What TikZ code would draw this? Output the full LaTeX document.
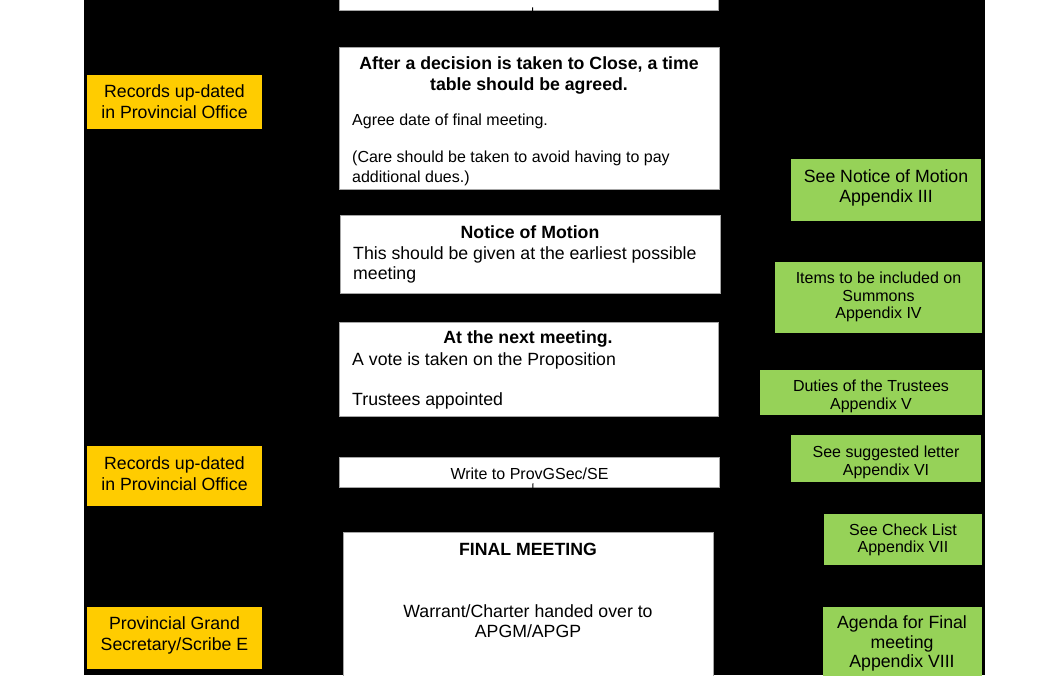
\documentclass[tikz,border=0pt]{standalone}
\usepackage{fontspec}
\setmainfont{Liberation Sans}
\usetikzlibrary{fit,arrows.meta}
\definecolor{boxyellow}{RGB}{255,204,0}
\definecolor{boxgreen}{RGB}{150,210,88}
\tikzset{
  wbox/.style={fill=white,draw=gray!70,line width=0.6pt,inner sep=0pt},
  ybox/.style={fill=boxyellow,draw=none,inner sep=0pt},
  gbox/.style={fill=boxgreen,draw=none,inner sep=0pt},
  txt/.style={inner sep=0pt,text=black},
  hb/.style={txt,font=\fontsize{17.7}{21}\selectfont\bfseries},
  tr/.style={txt,font=\fontsize{17.7}{21}\selectfont},
  ts/.style={txt,font=\fontsize{16}{18}\selectfont},
  conn/.style={draw=black,line width=1pt,-{Stealth[length=6pt]}},
}
\begin{document}
\begin{tikzpicture}[x=1pt,y=-1pt]
\useasboundingbox (0,0) rectangle (1058,675);
\fill[white] (0,0) rectangle (1058,675);
\fill[black] (84,0) rectangle (985,675);

% main column
\node[wbox,fit={(339,-4)(718,10)}] (b1) {};
\node[wbox,fit={(339,47)(719,189)}] (b2) {};
\node[wbox,fit={(340,215)(720,293)}] (b3) {};
\node[wbox,fit={(339,322)(718,416)}] (b4) {};
\node[wbox,fit={(339,457)(719,487)}] (b5) {};
\node[wbox,fit={(343,532)(713,682)}] (b6) {};

\node[hb,anchor=base] (b2a) at (529,69) {After a decision is taken to Close, a time};
\node[hb,anchor=base] (b2b) at (529,90) {table should be agreed.};
\node[ts,anchor=base west] (b2c) at (352,125) {Agree date of final meeting.};
\node[ts,anchor=base west] (b2d) at (352,162) {(Care should be taken to avoid having to pay};
\node[ts,anchor=base west] (b2e) at (352,182) {additional dues.)};

\node[hb,anchor=base] (b3a) at (530,238) {Notice of Motion};
\node[tr,anchor=base west] (b3b) at (353,259) {This should be given at the earliest possible};
\node[tr,anchor=base west] (b3c) at (353,279) {meeting};

\node[hb,anchor=base] (b4a) at (528,343) {At the next meeting.};
\node[tr,anchor=base west] (b4b) at (352,365) {A vote is taken on the Proposition};
\node[tr,anchor=base west] (b4c) at (352,405) {Trustees appointed};

\node[ts,anchor=base] (b5a) at (529.5,479) {Write to ProvGSec/SE};

\node[hb,anchor=base] (b6a) at (528,555) {FINAL MEETING};
\node[tr,anchor=base] (b6b) at (528,617) {Warrant/Charter handed over to};
\node[tr,anchor=base] (b6c) at (528,637) {APGM/APGP};

% yellow column
\node[ybox,fit={(87,75)(262,129)}] (y1) {};
\node[tr,anchor=base] (y1a) at (174.5,97) {Records up-dated};
\node[tr,anchor=base] (y1b) at (174.5,118) {in Provincial Office};
\node[ybox,fit={(87,446)(262,506)}] (y2) {};
\node[tr,anchor=base] (y2a) at (174.5,469) {Records up-dated};
\node[tr,anchor=base] (y2b) at (174.5,490) {in Provincial Office};
\node[ybox,fit={(87,607)(262,669)}] (y3) {};
\node[tr,anchor=base] (y3a) at (174.5,629) {Provincial Grand};
\node[tr,anchor=base] (y3b) at (174.5,650) {Secretary/Scribe E};

% green column
\node[gbox,fit={(791,159)(981,221)}] (g1) {};
\node[tr,anchor=base] (g1a) at (886,182) {See Notice of Motion};
\node[tr,anchor=base] (g1b) at (886,202) {Appendix III};
\node[gbox,fit={(775,262)(982,333)}] (g2) {};
\node[ts,anchor=base] (g2a) at (878.5,283) {Items to be included on};
\node[ts,anchor=base] (g2b) at (878.5,301) {Summons};
\node[ts,anchor=base] (g2c) at (878.5,318) {Appendix IV};
\node[gbox,fit={(760,370)(982,415)}] (g3) {};
\node[ts,anchor=base] (g3a) at (871,391) {Duties of the Trustees};
\node[ts,anchor=base] (g3b) at (871,409) {Appendix V};
\node[gbox,fit={(791,435)(981,482)}] (g4) {};
\node[ts,anchor=base] (g4a) at (886,457) {See suggested letter};
\node[ts,anchor=base] (g4b) at (886,475) {Appendix VI};
\node[gbox,fit={(824,514)(982,565)}] (g5) {};
\node[ts,anchor=base] (g5a) at (903,535) {See Check List};
\node[ts,anchor=base] (g5b) at (903,552) {Appendix VII};
\node[gbox,fit={(823,607)(982,682)}] (g6) {};
\node[tr,anchor=base] (g6a) at (902,628) {Agenda for Final};
\node[tr,anchor=base] (g6b) at (902,648) {meeting};
\node[tr,anchor=base] (g6c) at (902,667) {Appendix VIII};

% connectors (black on black)
\draw[conn] ([xshift=4pt,yshift=3pt]b1.south) -- ([xshift=4pt]b2.north);
\draw[conn] ([xshift=4pt,yshift=-1pt]b2.south) -- ([xshift=4pt]b3.north);
\draw[conn] ([xshift=3pt,yshift=-1pt]b3.south) -- ([xshift=3pt]b4.north);
\draw[conn] ([xshift=4pt,yshift=-1pt]b4.south) -- ([xshift=4pt]b5.north);
\draw[conn] ([xshift=4pt,yshift=4pt]b5.south) -- ([xshift=4pt]b6.north);
\end{tikzpicture}
\end{document}
